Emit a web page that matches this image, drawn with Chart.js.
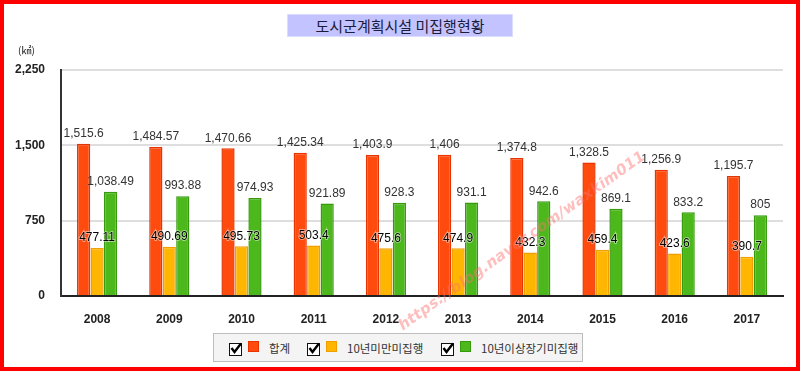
<!DOCTYPE html>
<html>
<head>
<meta charset="utf-8">
<script src="https://cdn.jsdelivr.net/npm/chart.js@4"></script>
<style>
  html, body { margin: 0; padding: 0; background: #fff; }
  #wrap { position: relative; width: 800px; height: 371px; overflow: hidden; font-family: "Noto Sans CJK KR", "Liberation Sans", sans-serif; }
  #frame { position: absolute; left: 0; top: 0; width: 800px; height: 371px; box-sizing: border-box; border: 4px solid #ff0000; pointer-events: none; z-index: 5; }
  #title { position: absolute; left: 287px; top: 14px; width: 226px; height: 23px; box-sizing: border-box;
    background: #c3c3ff; border: 1px solid #dcdcff; color: #1c1c3c; font-size: 15px; line-height: 21px; text-align: center; }
  #unit { position: absolute; left: 18px; top: 42px; font-size: 10px; color: #222; }
  #legend { position: absolute; left: 213px; top: 333px; width: 370px; height: 29px; box-sizing: border-box;
    background: #f4f4f4; border: 1px solid #bdbdbd; font-size: 11.5px; color: #333; }
  .item { position: absolute; top: 0; height: 27px; display: flex; align-items: center; cursor: pointer; }
  .chk { width: 11px; height: 11px; border: 1.5px solid #111; background: #fff; margin-right: 6px; position: relative; top: 2px; }
  .chk svg { position: absolute; left: -1px; top: -3px; }
  .sw { width: 9px; height: 9px; margin-right: 10px; position: relative; top: -1px; }
  #mark { position: absolute; left: 405px; top: 316px; transform-origin: 0 100%; transform: rotate(-35.3deg);
    font-family: "DejaVu Sans", sans-serif; font-style: italic; font-weight: bold; font-size: 15px; white-space: nowrap;
    color: rgba(255, 110, 110, 0.45); letter-spacing: 0.2px; z-index: 4; pointer-events: none; }
  canvas { position: absolute; left: 0; top: 0; }
</style>
</head>
<body>
<div id="wrap">
  <canvas id="chart" width="800" height="371"></canvas>
  <div id="title">도시군계획시설 미집행현황</div>
  <div id="unit">(㎢)</div>
  <div id="legend"></div>
  <div id="mark">https://blog.naver.com/waxkim011</div>
  <div id="frame"></div>
</div>
<script>
const years = ['2008', '2009', '2010', '2011', '2012', '2013', '2014', '2015', '2016', '2017']
const total = [1515.6, 1484.57, 1470.66, 1425.34, 1403.9, 1406, 1374.8, 1328.5, 1256.9, 1195.7]
const under10 = [477.11, 490.69, 495.73, 503.4, 475.6, 474.9, 432.3, 459.4, 423.6, 390.7]
const over10 = [1038.49, 993.88, 974.93, 921.89, 928.3, 931.1, 942.6, 869.1, 833.2, 805]
const yTicks = [0, 750, 1500, 2250]

const fmt = v => v.toLocaleString('en-US', { maximumFractionDigits: 2 })

// value labels over each bar
const barLabels = {
  id: 'barLabels',
  afterDatasetsDraw(chart) {
    const ctx = chart.ctx
    ctx.save()
    ctx.font = '12px "Liberation Sans", Arial, sans-serif'
    ctx.textAlign = 'center'
    ctx.textBaseline = 'bottom'
    chart.data.datasets.forEach((ds, i) => {
      const meta = chart.getDatasetMeta(i)
      if (meta.hidden) return
      meta.data.forEach((bar, j) => {
        const txt = fmt(ds.data[j])
        const y = bar.y - 4
        if (i === 1) {
          ctx.lineWidth = 1.5
          ctx.strokeStyle = 'rgba(255,255,255,0.6)'
          ctx.strokeText(txt, bar.x, y)
          ctx.fillStyle = '#000'
        } else {
          ctx.fillStyle = '#333'
        }
        ctx.fillText(txt, bar.x, y)
      })
    })
    ctx.restore()
  }
}

const chart = new Chart(document.getElementById('chart'), {
  type: 'bar',
  data: {
    labels: years,
    datasets: [
      { label: '합계', data: total, backgroundColor: '#ff4b0e', borderColor: '#e83400', borderWidth: 1.5 },
      { label: '10년미만미집행', data: under10, backgroundColor: '#ffb600', borderColor: '#f09e00', borderWidth: 1.5 },
      { label: '10년이상장기미집행', data: over10, backgroundColor: '#4cb81c', borderColor: '#369a0c', borderWidth: 1.5 }
    ]
  },
  options: {
    responsive: false,
    animation: false,
    categoryPercentage: 0.56,
    barPercentage: 0.98,
    layout: { padding: { top: 70, right: 17, bottom: 0, left: 0 } },
    plugins: { legend: { display: false }, tooltip: { enabled: false } },
    scales: {
      x: {
        grid: { display: false, drawTicks: false },
        border: { display: true, color: '#222', width: 2 },
        ticks: { padding: 16, color: '#222', font: { size: 12, weight: 'bold', family: '"Liberation Sans", Arial' } },
        afterFit: s => { s.height = 75 }
      },
      y: {
        min: 0,
        max: 2250,
        afterBuildTicks: s => { s.ticks = yTicks.map(v => ({ value: v })) },
        grid: { color: '#dedede', lineWidth: 2, drawTicks: false },
        border: { display: true, color: '#333', width: 2 },
        ticks: { padding: 16, color: '#222', font: { size: 12, weight: 'bold', family: '"Liberation Sans", Arial' }, callback: v => fmt(v) },
        afterFit: s => { s.width = 61 }
      }
    }
  },
  plugins: [barLabels]
})

// html legend with checkboxes
const legend = document.getElementById('legend')
const lefts = [15, 93, 227]
chart.data.datasets.forEach((ds, i) => {
  const it = document.createElement('div')
  it.className = 'item'
  it.style.left = lefts[i] + 'px'
  it.innerHTML = '<span class="chk"><svg width="14" height="14" viewBox="0 0 14 14"><polyline points="2.5,7 5.5,11 12,2.5" fill="none" stroke="#000" stroke-width="2.4"/></svg></span>' +
    '<span class="sw" style="background:' + ds.backgroundColor + ';border:1px solid ' + ds.borderColor + '"></span>' +
    '<span>' + ds.label + '</span>'
  it.onclick = () => {
    const vis = chart.isDatasetVisible(i)
    chart.setDatasetVisibility(i, !vis)
    it.querySelector('svg').style.visibility = vis ? 'hidden' : 'visible'
    chart.update()
  }
  legend.appendChild(it)
})
</script>
</body>
</html>
